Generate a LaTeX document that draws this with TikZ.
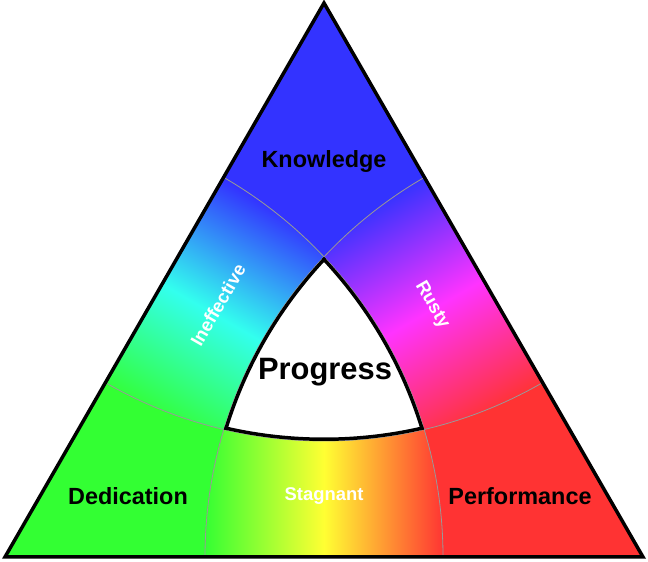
\documentclass[tikz,border=0pt]{standalone}
\usepackage{fontspec}
\setmainfont{Liberation Sans}
\begin{document}
\begin{tikzpicture}[x=1bp,y=1bp,
  big/.style={font=\bfseries\fontsize{23.5}{26}\selectfont},
  small/.style={font=\bfseries\fontsize{18.5}{20}\selectfont,text=white},
  sep/.style={draw=gray!80,line width=0.8bp}]
\definecolor{cB}{HTML}{3333FF}\definecolor{cG}{HTML}{33FF33}\definecolor{cR}{HTML}{FF3333}
\definecolor{cC}{HTML}{33FFEE}\definecolor{cM}{HTML}{FF33FF}\definecolor{cY}{HTML}{FFFF33}
\useasboundingbox (0,0) rectangle (648,562);
\coordinate (T) at (324,559); \coordinate (BL) at (5,5); \coordinate (BR) at (643,5);
\def\R{438}
\begin{scope}
\clip (T) -- (BL) -- (BR) -- cycle;
\begin{scope}\clip (T) circle (\R); \fill[cB] (0,0) rectangle (648,562);\end{scope}
\begin{scope}\clip (BL) circle (\R); \fill[cG] (0,0) rectangle (648,562);\end{scope}
\begin{scope}\clip (BR) circle (\R); \fill[cR] (0,0) rectangle (648,562);\end{scope}
% left band
\begin{scope}
\clip (T) circle (\R); \clip (BL) circle (\R);
\begin{scope}[transform canvas={rotate around={60.07:(5,5)}}]
\fill[cG] (100,-400) rectangle (200,400);
\fill[cB] (440,-400) rectangle (600,400);
\shade[left color=cG,right color=cB,middle color=cC] (199,-400) rectangle (441,400);
\end{scope}
\end{scope}
% right band
\begin{scope}
\clip (T) circle (\R); \clip (BR) circle (\R);
\begin{scope}[transform canvas={rotate around={119.93:(643,5)}}]
\fill[cR] (740,-400) rectangle (843,400);
\fill[cB] (1083,-400) rectangle (1250,400);
\shade[left color=cR,right color=cB,middle color=cM] (842,-400) rectangle (1084,400);
\end{scope}
\end{scope}
% bottom band
\begin{scope}
\clip (BL) circle (\R); \clip (BR) circle (\R);
\shade[left color=cG,right color=cR,middle color=cY] (204,0) rectangle (444,400);
\end{scope}
\draw[sep] (T) circle (\R);
\draw[sep] (BL) circle (\R);
\draw[sep] (BR) circle (\R);
% inner
\begin{scope}
\clip (T) circle (\R); \clip (BL) circle (\R); \clip (BR) circle (\R);
\fill[white] (0,0) rectangle (648,562);
\draw[line width=7bp] (T) circle (\R);
\draw[line width=7bp] (BL) circle (\R);
\draw[line width=7bp] (BR) circle (\R);
\end{scope}
\end{scope}
\draw[line width=3.5bp,line join=miter] (T) -- (BL) -- (BR) -- cycle;
\node[big] (k) at (324,400) {Knowledge};
\node[big] (d) at (128,66) {Dedication};
\node[big] (p) at (520,66) {Performance};
\node[font=\bfseries\fontsize{31}{34}\selectfont] (pr) at (325,190) {Progress};
\node[small,rotate=60] (i) at (218,257) {Ineffective};
\node[small,rotate=-60] (r) at (432,257) {Rusty};
\node[small] (s) at (324,66) {Stagnant};
\end{tikzpicture}
\end{document}
